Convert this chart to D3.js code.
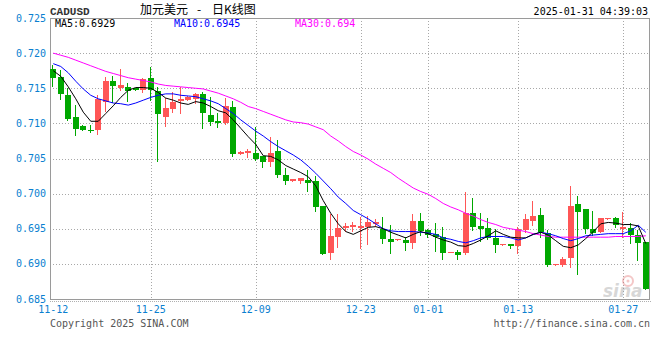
<!DOCTYPE html>
<html>
<head>
<meta charset="utf-8">
<script src="https://cdn.jsdelivr.net/npm/d3@7"></script>
<style>
body { margin: 0; background: #fff; }
svg  { display: block; }
</style>
</head>
<body>
<svg id="chart" width="660" height="360"></svg>
<script>
// one candle per calendar day, 11-12 .. 01-30
const dates = [
    "11-12","11-13","11-14","11-15","11-16","11-17","11-18","11-19","11-20","11-21",
    "11-22","11-23","11-24","11-25","11-26","11-27","11-28","11-29","11-30","12-01",
    "12-02","12-03","12-04","12-05","12-06","12-07","12-08","12-09","12-10","12-11",
    "12-12","12-13","12-14","12-15","12-16","12-17","12-18","12-19","12-20","12-21",
    "12-22","12-23","12-24","12-25","12-26","12-27","12-28","12-29","12-30","12-31",
    "01-01","01-02","01-03","01-04","01-05","01-06","01-07","01-08","01-09","01-10",
    "01-11","01-12","01-13","01-14","01-15","01-16","01-17","01-18","01-19","01-20",
    "01-21","01-22","01-23","01-24","01-25","01-26","01-27","01-28","01-29","01-30"
];
const open = [
    0.71774,0.71656,0.71404,0.71095,0.70963,0.70906,0.70910,0.71309,0.71603,0.71508,
    0.71514,0.71499,0.71479,0.71642,0.71461,0.71095,0.71205,0.71319,0.71333,0.71343,
    0.71418,0.71119,0.71034,0.71001,0.71237,0.70564,0.70574,0.70574,0.70536,0.70454,
    0.70611,0.70265,0.70184,0.70184,0.70194,0.70180,0.69824,0.69159,0.69387,0.69506,
    0.69521,0.69515,0.69529,0.69568,0.69492,0.69350,0.69340,0.69340,0.69301,0.69615,
    0.69482,0.69425,0.69378,0.69165,0.69173,0.69151,0.69728,0.69539,0.69515,0.69364,
    0.69273,0.69283,0.69254,0.69482,0.69615,0.69696,0.69435,0.68984,0.68984,0.69088,
    0.69852,0.69777,0.69492,0.69458,0.69635,0.69649,0.69496,0.69506,0.69411,0.69316
];
const high = [
    0.71831,0.71760,0.71504,0.71262,0.70970,0.70977,0.71404,0.71660,0.71679,0.71774,
    0.71575,0.71505,0.71646,0.71803,0.71522,0.71361,0.71451,0.71518,0.71385,0.71437,
    0.71451,0.71371,0.71143,0.71357,0.71323,0.70600,0.70635,0.70953,0.70540,0.70802,
    0.70763,0.70360,0.70206,0.70227,0.70336,0.70251,0.69830,0.69710,0.69710,0.69578,
    0.69596,0.69672,0.69682,0.69635,0.69663,0.69553,0.69352,0.69378,0.69710,0.69728,
    0.69492,0.69586,0.69521,0.69175,0.69197,0.70027,0.69933,0.69728,0.69649,0.69492,
    0.69285,0.69285,0.69529,0.69706,0.69899,0.69791,0.69482,0.69000,0.69094,0.70109,
    0.69970,0.69780,0.69757,0.69652,0.69652,0.69663,0.69743,0.69578,0.69482,0.69316
];
const low = [
    0.71536,0.71347,0.71048,0.70835,0.70900,0.70877,0.70853,0.71176,0.71309,0.71475,
    0.71323,0.71475,0.71451,0.71333,0.70464,0.70967,0.71166,0.71152,0.71330,0.71294,
    0.70930,0.70977,0.70953,0.70995,0.70536,0.70560,0.70526,0.70479,0.70383,0.70393,
    0.70232,0.70137,0.70182,0.70156,0.70042,0.69757,0.69135,0.69065,0.69236,0.69472,
    0.69472,0.69222,0.69283,0.69539,0.69293,0.69159,0.69338,0.69197,0.69230,0.69411,
    0.69387,0.69188,0.69074,0.69163,0.69074,0.69141,0.69482,0.69330,0.69350,0.69173,
    0.69271,0.69222,0.69159,0.69458,0.69553,0.69378,0.68970,0.68982,0.68970,0.68960,
    0.68856,0.69435,0.69411,0.69455,0.69632,0.69529,0.69387,0.69293,0.69055,0.68638
];
const close = [
    0.71650,0.71418,0.71062,0.70920,0.70906,0.70896,0.71347,0.71603,0.71536,0.71546,
    0.71465,0.71479,0.71632,0.71475,0.71133,0.71223,0.71309,0.71347,0.71380,0.71418,
    0.71143,0.71024,0.71001,0.71247,0.70564,0.70597,0.70611,0.70493,0.70454,0.70574,
    0.70265,0.70184,0.70204,0.70227,0.70147,0.69814,0.69141,0.69397,0.69506,0.69539,
    0.69553,0.69539,0.69600,0.69596,0.69350,0.69307,0.69350,0.69301,0.69615,0.69472,
    0.69411,0.69378,0.69159,0.69173,0.69122,0.69720,0.69521,0.69501,0.69364,0.69269,
    0.69283,0.69254,0.69492,0.69635,0.69682,0.69458,0.68984,0.68998,0.69069,0.69824,
    0.69743,0.69492,0.69444,0.69649,0.69649,0.69553,0.69525,0.69411,0.69293,0.68638
];
// moving averages as drawn on the reference
const ma5 = [
    0.7175,0.7167,0.7152,0.7135,0.7116,0.7103,0.7103,0.7114,0.7125,0.7137,
    0.7147,0.7151,0.7151,0.7150,0.7144,0.7136,0.7133,0.7129,0.7127,0.7131,
    0.7129,0.7124,0.7118,0.7115,0.7105,0.7093,0.7081,0.7070,0.7054,0.7053,
    0.7048,0.7040,0.7035,0.7030,0.7024,0.7011,0.6990,0.6972,0.6957,0.6946,
    0.6942,0.6947,0.6952,0.6953,0.6950,0.6945,0.6941,0.6937,0.6942,0.6946,
    0.6943,0.6938,0.6934,0.6931,0.6926,0.6925,0.6929,0.6934,0.6940,0.6947,
    0.6942,0.6938,0.6937,0.6937,0.6942,0.6945,0.6941,0.6933,0.6925,0.6923,
    0.6927,0.6936,0.6946,0.6957,0.6959,0.6958,0.6956,0.6956,0.6954,0.6929
];
const ma10 = [
    0.7185,0.7181,0.7172,0.7160,0.7149,0.7140,0.7135,0.7132,0.7129,0.7128,
    0.7126,0.7129,0.7133,0.7137,0.7140,0.7142,0.7142,0.7140,0.7139,0.7138,
    0.7135,0.7132,0.7128,0.7121,0.7114,0.7105,0.7097,0.7089,0.7082,0.7074,
    0.7067,0.7061,0.7055,0.7048,0.7039,0.7029,0.7018,0.7007,0.6995,0.6986,
    0.6976,0.6970,0.6964,0.6957,0.6950,0.6947,0.6946,0.6946,0.6946,0.6945,
    0.6944,0.6942,0.6937,0.6935,0.6932,0.6930,0.6933,0.6937,0.6939,0.6939,
    0.6939,0.6937,0.6934,0.6937,0.6942,0.6945,0.6943,0.6940,0.6936,0.6933,
    0.6936,0.6940,0.6941,0.6942,0.6943,0.6943,0.6943,0.6947,0.6955,0.6945
];
const ma30 = [
    0.7200,0.7197,0.7194,0.7190,0.7186,0.7182,0.7178,0.7174,0.7171,0.7168,
    0.7165,0.7163,0.7161,0.7159,0.7156,0.7154,0.7153,0.7152,0.7151,0.7150,
    0.7149,0.7146,0.7143,0.7139,0.7135,0.7130,0.7124,0.7121,0.7117,0.7113,
    0.7109,0.7105,0.7102,0.7101,0.7099,0.7095,0.7091,0.7082,0.7075,0.7067,
    0.7060,0.7055,0.7049,0.7042,0.7036,0.7030,0.7022,0.7015,0.7008,0.7003,
    0.6999,0.6993,0.6986,0.6981,0.6977,0.6972,0.6968,0.6963,0.6959,0.6956,
    0.6952,0.6950,0.6948,0.6946,0.6943,0.6941,0.6939,0.6938,0.6938,0.6938,
    0.6938,0.6938,0.6938,0.6938,0.6938,0.6939,0.6939,0.6939,0.6939,0.6940
];
const tickDates = ["11-12","11-25","12-09","12-23","01-01","01-13","01-27"];
const yTicks    = [0.725, 0.720, 0.715, 0.710, 0.705, 0.700, 0.695, 0.690, 0.685];
const maNames   = ["MA5", "MA10", "MA30"];
const maLast    = ["0.6929", "0.6945", "0.694"];
const maColors  = ["#000000", "#0000ff", "#ff00ff"];
const titleParts = ["加元美元", "-", "日K线图"];

const svg  = d3.select("#chart"),
      mono = "'DejaVu Sans Mono', monospace",
      blue = "#0a7fd0",
      L = 50, R = 649, T = 18, B = 299;

let x = d3.scaleBand()
          .domain(dates)
          .range([49.5, 649.5])
          .paddingInner(0.2)
          .paddingOuter(0.1);
let y = d3.scaleLinear()
          .domain([0.685, 0.725])
          .range([B, T]);
let cx = d => x(d) + x.bandwidth() / 2;
let snap = v => Math.round(v) + 0.5;

// dotted grid
svg.append("g").selectAll("line")
   .data(yTicks.slice(1, -1)).enter().append("line")
   .attr("x1", L).attr("x2", R)
   .attr("y1", d => snap(y(d))).attr("y2", d => snap(y(d)))
   .attr("stroke", "#a8a8a8").attr("stroke-dasharray", "1,2");
svg.append("g").selectAll("line")
   .data(tickDates.slice(1)).enter().append("line")
   .attr("x1", d => snap(cx(d))).attr("x2", d => snap(cx(d)))
   .attr("y1", T).attr("y2", B)
   .attr("stroke", "#a8a8a8").attr("stroke-dasharray", "1,2");

// frame
svg.append("rect")
   .attr("x", L + 0.5).attr("y", T + 0.5)
   .attr("width", R - L).attr("height", B - T)
   .attr("fill", "none").attr("stroke", "#9a9a9a");
svg.append("line")
   .attr("x1", L).attr("x2", R + 2)
   .attr("y1", B + 2.5).attr("y2", B + 2.5)
   .attr("stroke", "#b0b0b0").attr("stroke-dasharray", "1,1");

// sina watermark
let wm = svg.append("g").attr("opacity", 0.35);
wm.append("circle").attr("cx", 628).attr("cy", 281).attr("r", 5)
  .attr("fill", "none").attr("stroke", "#e06060").attr("stroke-width", 2);
wm.append("circle").attr("cx", 628).attr("cy", 281).attr("r", 1.5).attr("fill", "#e06060");
wm.append("text").attr("x", 603).attr("y", 297)
  .attr("font-family", "'DejaVu Sans', sans-serif").attr("font-size", 17)
  .attr("font-weight", "bold").attr("font-style", "italic")
  .attr("fill", "#909090").text("sina");

// candles
let candles = dates.map((d, i) => ({d: d, o: open[i], h: high[i], l: low[i], c: close[i]}));
let color = k => k.c > k.o ? "#ff5656" : "#00a800";
let bw = Math.round(x.bandwidth());

let g = svg.append("g").attr("shape-rendering", "crispEdges");
g.selectAll("line.wick")
 .data(candles).enter().append("line")
 .attr("class", "wick")
 .attr("x1", k => Math.round(x(k.d)) + Math.floor(bw / 2) - 0.5)
 .attr("x2", k => Math.round(x(k.d)) + Math.floor(bw / 2) - 0.5)
 .attr("y1", k => Math.round(y(k.h)))
 .attr("y2", k => Math.round(y(k.l)) + 1)
 .attr("stroke", color);
g.selectAll("rect.body")
 .data(candles).enter().append("rect")
 .attr("class", "body")
 .attr("x", k => Math.round(x(k.d)))
 .attr("width", bw)
 .attr("y", k => Math.round(y(Math.max(k.o, k.c))))
 .attr("height", k => Math.max(1, Math.round(y(Math.min(k.o, k.c))) - Math.round(y(Math.max(k.o, k.c)))))
 .attr("fill", color);

// moving average lines
let line = d3.line()
             .x((v, i) => cx(dates[i]))
             .y(v => y(v));
[ma30, ma10, ma5].forEach((s, j) => {
    svg.append("path")
       .attr("d", line(s))
       .attr("fill", "none")
       .attr("stroke", maColors[2 - j])
       .attr("stroke-width", 1);
});

// y axis labels
svg.append("g").selectAll("text")
   .data(yTicks).enter().append("text")
   .attr("x", 46).attr("y", d => y(d) + 3.5)
   .attr("text-anchor", "end")
   .attr("font-family", mono).attr("font-size", 10)
   .attr("fill", blue)
   .text(d => d.toFixed(3));

// x axis labels
svg.append("g").selectAll("text")
   .data(tickDates).enter().append("text")
   .attr("x", d => cx(d)).attr("y", 313)
   .attr("text-anchor", "middle")
   .attr("font-family", mono).attr("font-size", 10)
   .attr("fill", blue)
   .text(d => d);

// header
svg.append("text").attr("x", 50).attr("y", 15)
   .attr("font-family", "'Liberation Mono', monospace").attr("font-size", 11)
   .attr("font-weight", "bold").attr("fill", "#333")
   .text("CADUSD");
let titleX = [140, 197, 212];
svg.append("g").selectAll("text")
   .data(titleParts).enter().append("text")
   .attr("x", (d, i) => titleX[i]).attr("y", 14)
   .attr("font-family", "'Noto Sans CJK SC', sans-serif").attr("font-size", 12)
   .attr("fill", "#000")
   .text(d => d);
svg.append("text").attr("x", 648).attr("y", 15)
   .attr("text-anchor", "end")
   .attr("font-family", mono).attr("font-size", 10).attr("fill", "#000")
   .text("2025-01-31 04:39:03");

// MA legend row inside the plot
let maX = [55, 174, 295];
svg.append("g").selectAll("text")
   .data(maNames).enter().append("text")
   .attr("x", (d, i) => maX[i]).attr("y", 27)
   .attr("font-family", mono).attr("font-size", 10)
   .attr("fill", (d, i) => maColors[i])
   .text((d, i) => `${d}:${maLast[i]}`);

// footer
svg.append("text").attr("x", 50).attr("y", 327)
   .attr("font-family", mono).attr("font-size", 10).attr("fill", "#555")
   .text("Copyright 2025 SINA.COM");
svg.append("text").attr("x", 650).attr("y", 327)
   .attr("text-anchor", "end")
   .attr("font-family", mono).attr("font-size", 10).attr("fill", "#555")
   .text("http://finance.sina.com.cn");
</script>
</body>
</html>
